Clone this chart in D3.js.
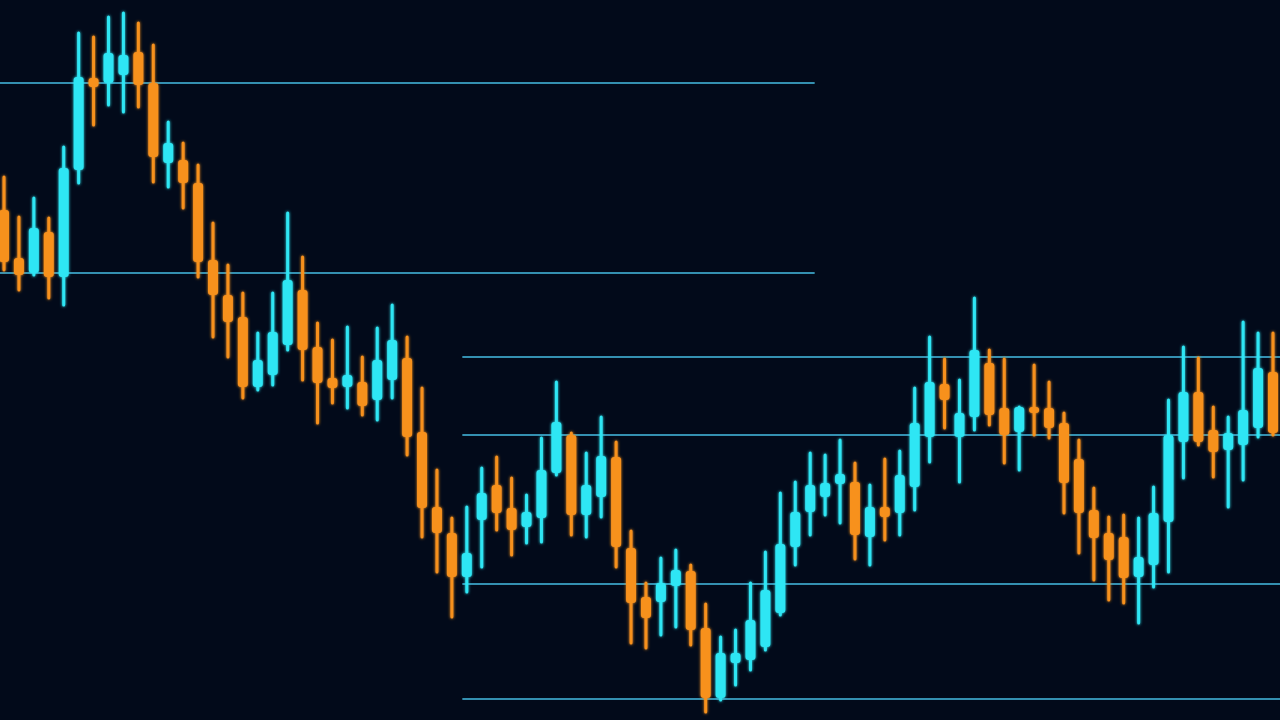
<!DOCTYPE html>
<html>
<head>
<meta charset="utf-8">
<script src="https://cdn.jsdelivr.net/npm/d3@7"></script>
<style>
  html, body { margin: 0; padding: 0; background: #020a1a; }
  #chart { width: 1280px; height: 720px; }
</style>
</head>
<body>
<div id="chart"></div>
<script>
// candle values (open, high, low, close), one entry per session
const opens = [510, 462, 447, 488, 443, 550, 642, 637, 645, 668, 637, 557, 560, 537, 460, 425, 403, 333, 345, 375,
  430, 373, 342, 333, 338, 320, 340, 362, 288, 213, 187, 143, 200, 235, 212, 193, 202, 247, 285, 205,
  223, 263, 172, 123, 118, 134, 149, 92, 22, 57, 60, 73, 107, 173, 208, 223, 236, 238, 183, 213,
  207, 233, 283, 336, 283, 303, 357, 312, 288, 313, 312, 297, 261, 210, 187, 183, 143, 155, 198, 278,
  328, 290, 270, 275, 292, 348];
const highs = [543, 503, 522, 502, 573, 687, 683, 703, 707, 697, 675, 598, 577, 555, 497, 455, 427, 387, 427, 507,
  463, 397, 380, 393, 363, 392, 415, 383, 332, 250, 202, 213, 252, 263, 242, 225, 282, 338, 287, 267,
  303, 278, 189, 137, 162, 170, 155, 116, 83, 90, 137, 168, 227, 238, 267, 265, 280, 257, 235, 261,
  269, 332, 383, 361, 340, 422, 370, 361, 313, 355, 338, 307, 280, 232, 203, 205, 202, 233, 320, 373,
  362, 313, 303, 398, 387, 387];
const lows = [450, 430, 445, 422, 415, 537, 595, 615, 608, 613, 538, 533, 512, 443, 383, 363, 322, 330, 335, 370,
  340, 297, 317, 312, 305, 300, 322, 265, 183, 148, 103, 128, 153, 190, 165, 177, 178, 245, 185, 183,
  203, 153, 77, 72, 85, 93, 75, 8, 20, 35, 50, 70, 105, 155, 185, 205, 197, 161, 155, 180,
  185, 210, 258, 292, 238, 290, 295, 257, 250, 285, 282, 207, 167, 140, 120, 117, 97, 133, 148, 242,
  275, 243, 213, 240, 283, 285];
const closes = [458, 445, 492, 443, 552, 643, 633, 667, 665, 635, 563, 577, 537, 458, 425, 398, 333, 360, 388, 440,
  370, 337, 332, 345, 314, 360, 380, 283, 212, 187, 143, 167, 227, 207, 190, 208, 250, 298, 205, 235,
  264, 173, 117, 102, 137, 150, 90, 22, 67, 67, 100, 130, 176, 208, 235, 237, 246, 185, 213, 203,
  245, 297, 338, 320, 307, 370, 305, 285, 313, 307, 292, 237, 207, 182, 160, 142, 163, 207, 285, 328,
  278, 268, 287, 310, 352, 287];

// horizontal support / resistance levels: price and session span
const levelPrices = [637, 447, 363, 285, 136, 21];
const levelStart = [-1, -1, 30.7, 30.7, 30.7, 30.7];
const levelEnd = [54.3, 54.3, 86, 86, 86, 86];

const width = 1280;
const height = 720;
const upColor = '#2fe6f4';
const downColor = '#f7911f';
const levelColor = '#3a9fc2';

const candles = opens.map((o, i) => ({
  i,
  open: o,
  high: highs[i],
  low: lows[i],
  close: closes[i],
}));

const levels = levelPrices.map((p, i) => ({ price: p, from: levelStart[i], to: levelEnd[i] }));

const x = d3.scaleLinear().domain([0, candles.length - 1]).range([4, 1273]);
const y = d3.scaleLinear().domain([0, 720]).range([height, 0]);

const svg = d3.select('#chart')
  .append('svg')
  .attr('width', width)
  .attr('height', height);

svg.append('rect')
  .attr('width', width)
  .attr('height', height)
  .attr('fill', '#020a1a');

// soft glow like the screen capture
const defs = svg.append('defs');
const glow = defs.append('filter')
  .attr('id', 'glow')
  .attr('x', '-50%').attr('y', '-50%')
  .attr('width', '200%').attr('height', '200%');
glow.append('feGaussianBlur').attr('stdDeviation', 1.6).attr('result', 'blur');
const merge = glow.append('feMerge');
merge.append('feMergeNode').attr('in', 'blur');
merge.append('feMergeNode').attr('in', 'SourceGraphic');

svg.append('g')
  .attr('class', 'levels')
  .selectAll('line')
  .data(levels)
  .join('line')
  .attr('x1', (d) => Math.max(0, x(d.from)))
  .attr('x2', (d) => Math.min(width, x(d.to)))
  .attr('y1', (d) => y(d.price))
  .attr('y2', (d) => y(d.price))
  .attr('stroke', levelColor)
  .attr('stroke-width', 2)
  .attr('opacity', 0.9);

const g = svg.append('g')
  .attr('class', 'candles')
  .attr('filter', 'url(#glow)');

const candle = g.selectAll('g')
  .data(candles)
  .join('g')
  .attr('fill', (d) => (d.close >= d.open ? upColor : downColor))
  .attr('stroke', (d) => (d.close >= d.open ? upColor : downColor));

candle.append('line')
  .attr('x1', (d) => x(d.i))
  .attr('x2', (d) => x(d.i))
  .attr('y1', (d) => y(d.high))
  .attr('y2', (d) => y(d.low))
  .attr('stroke-width', 3)
  .attr('stroke-linecap', 'round');

const bodyW = 10;
candle.append('rect')
  .attr('x', (d) => x(d.i) - bodyW / 2)
  .attr('y', (d) => y(Math.max(d.open, d.close)))
  .attr('width', bodyW)
  .attr('height', (d) => Math.max(6, Math.abs(y(d.open) - y(d.close))))
  .attr('rx', 3)
  .attr('stroke', 'none');
</script>
</body>
</html>
